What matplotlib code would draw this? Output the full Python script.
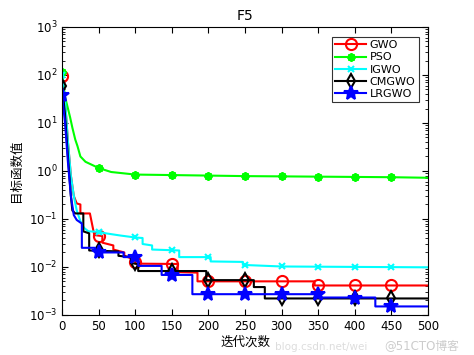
import numpy as np
import matplotlib
matplotlib.use("Agg")
import matplotlib.pyplot as plt
from matplotlib.lines import Line2D

plt.rcParams['font.family'] = ['DejaVu Sans', 'Noto Sans CJK SC']

# convergence curves (iteration, best value)
gwo_it = [0, 4, 8, 12, 16, 20, 25, 25, 38, 44, 55, 55, 70, 70, 85, 85, 100, 100, 158, 158, 185, 185, 345, 345, 500]
gwo_val = [95, 30, 4, 0.8, 0.3, 0.21, 0.2, 0.13, 0.13, 0.046, 0.044, 0.032, 0.028, 0.023, 0.02, 0.017, 0.014,
           0.0117, 0.0115, 0.0078, 0.0076, 0.005, 0.005, 0.0041, 0.0041]

pso_it = [0, 4, 8, 11, 14, 18, 21, 25, 32, 50, 67, 100, 150, 200, 250, 300, 350, 400, 450, 500]
pso_val = [115, 35, 20, 13, 8, 4.5, 3.3, 2.0, 1.55, 1.15, 0.95, 0.84, 0.82, 0.8, 0.78, 0.77, 0.76, 0.75, 0.74, 0.72]

igwo_it = [0, 4, 8, 12, 16, 20, 25, 30, 36, 50, 60, 80, 100, 110, 110, 123, 123, 160, 160, 203, 203, 247, 247, 300, 500]
igwo_val = [100, 30, 4, 0.8, 0.3, 0.15, 0.09, 0.065, 0.055, 0.054, 0.05, 0.045, 0.041, 0.04, 0.03, 0.028, 0.023,
            0.022, 0.016, 0.016, 0.013, 0.0127, 0.011, 0.0102, 0.0098]

cm_it = [0, 4, 8, 12, 14, 18, 29, 29, 37, 37, 77, 77, 94, 94, 104, 104, 197, 197, 262, 262, 277, 277, 500]
cm_val = [60, 15, 2, 0.3, 0.15, 0.13, 0.13, 0.055, 0.05, 0.022, 0.021, 0.017, 0.016, 0.012, 0.0115, 0.0082,
          0.0082, 0.0053, 0.0053, 0.0038, 0.0038, 0.0022, 0.0022]

lr_it = [0, 4, 8, 12, 16, 20, 27, 27, 45, 45, 84, 84, 104, 104, 136, 136, 178, 178, 352, 352, 428, 428, 500]
lr_val = [38, 10, 1.5, 0.3, 0.12, 0.095, 0.08, 0.025, 0.025, 0.02, 0.02, 0.016, 0.016, 0.0105, 0.0105, 0.0068,
          0.0068, 0.0027, 0.0027, 0.0023, 0.0023, 0.0015, 0.0015]

# marker values every 50 iterations
mark_it = [0, 50, 100, 150, 200, 250, 300, 350, 400, 450]
gwo_mk = [95, 0.044, 0.0125, 0.0115, 0.005, 0.005, 0.005, 0.0041, 0.0041, 0.0041]
pso_mk = [115, 1.15, 0.84, 0.82, 0.8, 0.78, 0.77, 0.76, 0.75, 0.74]
igwo_mk = [100, 0.054, 0.041, 0.023, 0.016, 0.011, 0.0102, 0.0101, 0.01, 0.0099]
cm_mk = [60, 0.022, 0.012, 0.0082, 0.0053, 0.0053, 0.0022, 0.0022, 0.0022, 0.0022]
lr_mk = [38, 0.02, 0.016, 0.0068, 0.0027, 0.0027, 0.0027, 0.0027, 0.0023, 0.0015]

names = ['GWO', 'PSO', 'IGWO', 'CMGWO', 'LRGWO']
colors = ['#ff0000', '#00ff00', '#00ffff', '#000000', '#0000ff']
markers = ['o', (8, 2, 0), 'x', 'd', '*']
msizes = [8, 6, 5, 7.5, 10]
filled = [False, True, True, False, True]

fig = plt.figure(figsize=(4.74, 3.55), dpi=100)
ax = fig.add_axes([0.131, 0.113, 0.772, 0.811])

curves = [(gwo_it, gwo_val, gwo_mk), (pso_it, pso_val, pso_mk), (igwo_it, igwo_val, igwo_mk),
          (cm_it, cm_val, cm_mk), (lr_it, lr_val, lr_mk)]
handles = []
for (xs, ys, mk), name, c, m, ms, f in zip(curves, names, colors, markers, msizes, filled):
    ax.plot(xs, ys, color=c, lw=1.5)
    face = c if f else 'none'
    ax.plot(mark_it, mk, ls='none', marker=m, ms=ms, mec=c, mfc=face, mew=1.5)
    handles.append(Line2D([], [], color=c, lw=1.5, marker=m, ms=ms, mec=c, mfc=face, mew=1.5, label=name))

ax.set_yscale('log')
ax.set_ylim(1e-3, 1e3)
ax.set_xlim(0, 500)
ax.set_xticks(np.arange(0, 501, 50))
ax.tick_params(which='both', direction='in', top=True, right=True, labelsize=8.5)
ax.tick_params(which='major', length=4)
ax.tick_params(which='minor', length=2)

ax.set_title('F5', fontsize=10, pad=5)
ax.set_xlabel('迭代次数', fontsize=9, family=['Noto Sans CJK SC'], labelpad=2)
ax.set_ylabel('目标函数值', fontsize=9, family=['Noto Sans CJK SC'])

leg = ax.legend(handles=handles, loc='upper right', fontsize=8, fancybox=False, edgecolor='black',
                handlelength=2.8, borderpad=0.3, labelspacing=0.2, handletextpad=0.3,
                bbox_to_anchor=(0.99, 0.985))
leg.get_frame().set_linewidth(0.8)

# faint watermark along the bottom edge
fig.text(0.58, 0.015, 'blog.csdn.net/wei', fontsize=7.5, color='#dddddd')
fig.text(0.81, 0.015, '@51CTO博客', fontsize=8.5, color='#cccccc', family=['DejaVu Sans', 'Noto Sans CJK SC'])

fig.savefig('out.png', dpi=100)
